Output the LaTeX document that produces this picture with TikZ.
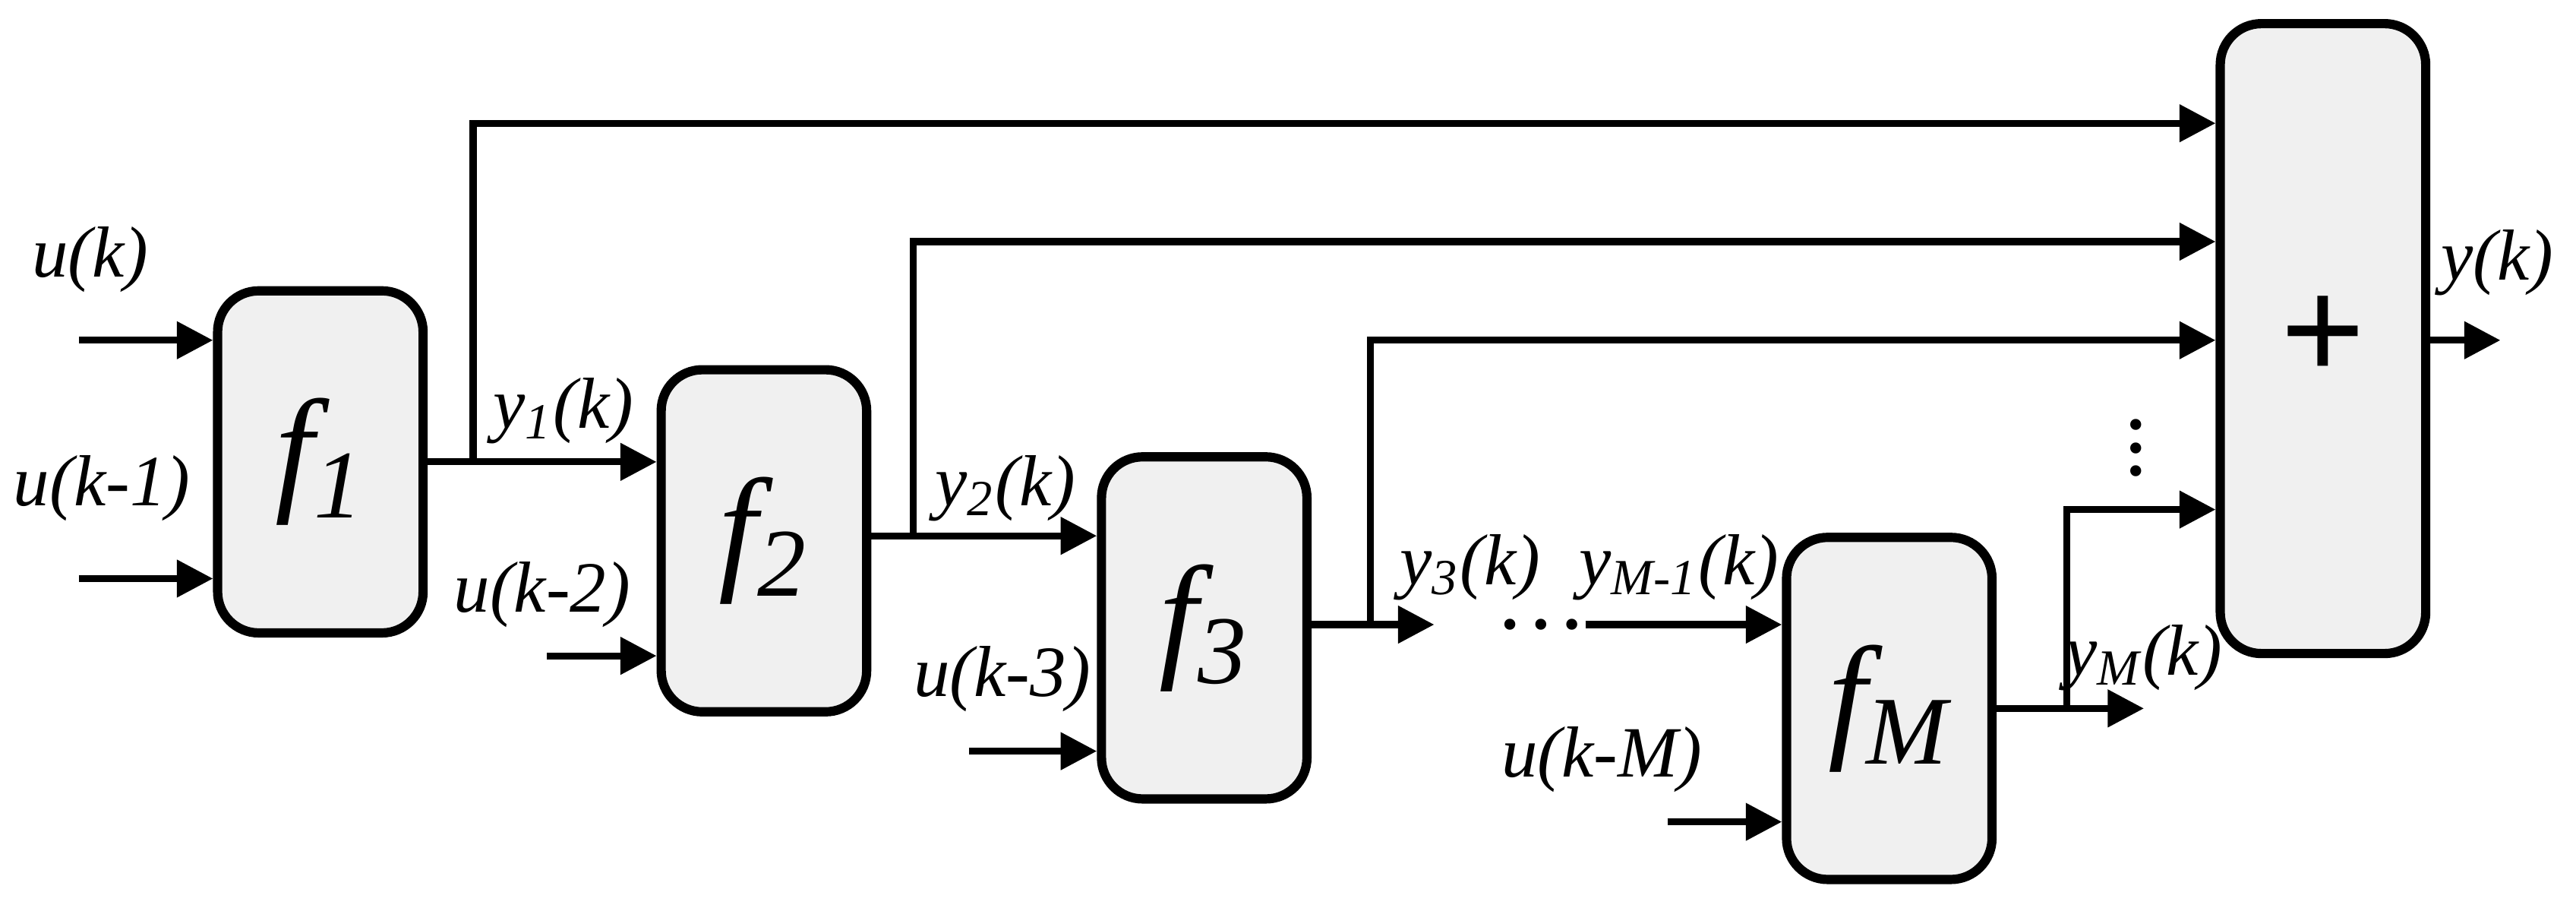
\documentclass[tikz,border=0pt]{standalone}
\usepackage{fontspec}
\setmainfont{Liberation Serif}
\usetikzlibrary{positioning}
\usetikzlibrary{calc}
\usetikzlibrary{arrows.meta}
\tikzset{
  block/.style   = { rectangle, rounded corners=2.5mm, draw=black, line width=1.6pt,
                     fill=black!6!white, minimum width=1.25cm, minimum height=2.08cm,
                     font=\fontsize{24}{24}\selectfont\itshape },
  sum/.style     = { block, minimum height=3.83cm, font=\fontsize{26}{26}\selectfont\bfseries },
  sig/.style     = { font=\fontsize{12.5}{12.5}\selectfont\itshape, inner sep=0pt },
  dots/.style    = { font=\fontsize{16}{16}\selectfont, inner sep=0pt },
}
\begin{document}
\begin{tikzpicture}[
  x=0.01cm,y=-0.01cm,
  line width=1.2pt,
  >={Triangle[length=2.2mm,width=2.2mm]}
]
  \useasboundingbox (0,0) rectangle (1568,552);

  \node (f1)  [block] at (195,281)  {f\textsubscript{1}};
  \node (f2)  [block] at (465,329)  {f\textsubscript{2}};
  \node (f3)  [block] at (733,382)  {f\textsubscript{3}};
  \node (fM)  [block] at (1150,431) {f\textsubscript{M}};
  \node (add) [sum]   at (1414,206) {+};

  \coordinate (in1)  at (48,207);
  \coordinate (in2)  at (48,352);
  \coordinate (in3)  at (333,399);
  \coordinate (in4)  at (590,457);
  \coordinate (in5)  at (965,380);
  \coordinate (in6)  at (1015,500);
  \coordinate (out3) at (873,380);
  \coordinate (outM) at (1305,431);
  \coordinate (out)  at (1522,207);

  % inputs
  \draw [->] (in1) -- (in1 -| f1.west);
  \draw [->] (in2) -- (in2 -| f1.west);
  \draw [->] (in3) -- (in3 -| f2.west);
  \draw [->] (in4) -- (in4 -| f3.west);
  \draw [->] (in5) -- (in5 -| fM.west);
  \draw [->] (in6) -- (in6 -| fM.west);

  % chain
  \draw [->] (f1.east |- 0,281) -- (f2.west |- 0,281);
  \draw [->] (f2.east |- 0,326) -- (f3.west |- 0,326);
  \draw [->] (f3.east |- 0,380) -- (out3);
  \draw [->] (fM.east |- 0,431) -- (outM);
  \draw [->] (add.east |- out) -- (out);

  % branches to the sum
  \draw [->] (288,281)  |- (add.west |- 0,75);
  \draw [->] (556,326)  |- (add.west |- 0,147);
  \draw [->] (834,380)  |- (add.west |- 0,207);
  \draw [->] (1258,431) |- (add.west |- 0,310);

  % labels
  \node [sig] at (55,158)   {u(k)};
  \node [sig] at (62,297)   {u(k-1)};
  \node [sig] at (343,250)  {y\textsubscript{1}(k)};
  \node [sig] at (330,362)  {u(k-2)};
  \node [sig] at (612,297)  {y\textsubscript{2}(k)};
  \node [sig] at (610,413)  {u(k-3)};
  \node [sig] at (895,345)  {y\textsubscript{3}(k)};
  \node [dots] at (938,380) {…};
  \node [sig] at (1022,345) {y\textsubscript{M-1}(k)};
  \node [sig] at (975,462)  {u(k-M)};
  \node [sig] at (1305,400) {y\textsubscript{M}(k)};
  \node [sig] at (1520,160) {y(k)};
  \node [dots] at (1300,262) {$\vdots$};
\end{tikzpicture}
\end{document}
